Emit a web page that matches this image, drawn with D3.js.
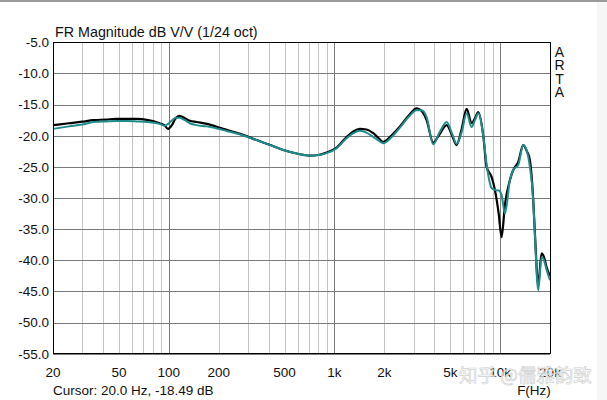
<!DOCTYPE html>
<html>
<head>
<meta charset="utf-8">
<script src="https://cdn.jsdelivr.net/npm/d3@7"></script>
<style>
  body { margin: 0; background: #fff; }
  svg { display: block; font-family: "Liberation Sans", Arial, sans-serif; }
</style>
</head>
<body>
<div id="chart-container"></div>
<script>
// measurement points (Hz), shared by both traces
var freqs = [20, 25, 30, 35, 42, 48, 56, 64, 75, 88, 94, 99, 105, 110, 116, 125, 134, 147,
  170, 213, 270, 339, 410, 491, 600, 711, 800, 898, 1031, 1183, 1300, 1425, 1560, 1714,
  1850, 1970, 2200, 2483, 2800, 3134, 3350, 3600, 3945, 4300, 4756, 5100, 5460, 5850,
  6280, 6730, 7050, 7380, 7910, 8280, 8880, 9300, 9800, 10200, 10700, 11460, 12000,
  12860, 13780, 14500, 15120, 15840, 16220, 16980, 17780, 18400, 19060, 20000];

var blackDb = [-18.3, -18.0, -17.75, -17.5, -17.4, -17.3, -17.3, -17.3, -17.5, -18.0, -18.3,
  -18.9, -18.2, -17.2, -16.8, -17.2, -17.6, -17.8, -18.1, -18.9, -19.7, -20.7, -21.5,
  -22.3, -22.9, -23.2, -23.1, -22.7, -21.9, -20.2, -19.3, -18.9, -19.0, -19.6, -20.4,
  -21.0, -20.0, -18.5, -16.8, -15.6, -16.0, -17.5, -21.1, -19.8, -18.3, -19.8, -21.5,
  -19.0, -15.7, -18.0, -17.2, -16.2, -20.0, -25.0, -26.6, -28.7, -32.5, -36.3, -31.0,
  -27.1, -25.5, -24.2, -21.5, -22.5, -23.9, -30.3, -35.7, -44.0, -38.9, -39.5, -41.1, -42.5];

var tealDb = [-18.9, -18.5, -18.2, -17.8, -17.7, -17.65, -17.65, -17.7, -17.8, -18.1, -18.4,
  -18.1, -17.5, -17.1, -17.1, -17.5, -18.0, -18.3, -18.5, -19.1, -19.8, -20.7, -21.5,
  -22.3, -22.9, -23.2, -23.1, -22.8, -22.0, -20.4, -19.6, -19.2, -19.5, -20.2, -20.8,
  -21.2, -20.3, -18.7, -17.0, -15.9, -15.9, -17.0, -21.4, -19.5, -17.8, -19.5, -21.3,
  -19.5, -16.4, -18.6, -17.5, -16.4, -20.0, -24.5, -28.4, -28.7, -28.8, -29.5, -32.5,
  -27.1, -25.5, -24.7, -21.5, -22.5, -25.0, -30.3, -36.0, -44.8, -39.5, -40.0, -41.5, -43.2];

var yTicks = [-5, -10, -15, -20, -25, -30, -35, -40, -45, -50, -55];
var xTicks = [20, 50, 100, 200, 500, 1000, 2000, 5000, 10000, 20000];
var xTickLabels = ['20', '50', '100', '200', '500', '1k', '2k', '5k', '10k', '20k'];
var gridFreqs = [20, 30, 40, 50, 60, 70, 80, 90, 100, 200, 300, 400, 500, 600, 700, 800, 900,
  1000, 2000, 3000, 4000, 5000, 6000, 7000, 8000, 9000, 10000, 20000];
var majorFreqs = [100, 1000, 10000];

var titleText = 'FR Magnitude dB V/V (1/24 oct)';
var cursorText = 'Cursor: 20.0 Hz, -18.49 dB';
var axisName = 'F(Hz)';
var brandLetters = ['A', 'R', 'T', 'A'];
var watermark = '知乎 @儒雅韵致';

var _width = 607, _height = 400,
    _left = 53, _right = 550, _top = 42.3, _bottom = 353.7;

var svg = d3.select('#chart-container').append('svg')
    .attr('width', _width)
    .attr('height', _height);

// window frame bits
svg.append('rect')
    .attr('x', 597).attr('y', 0).attr('width', 10).attr('height', _height)
    .attr('fill', '#f6f6f6');
svg.append('line')
    .attr('x1', 0).attr('x2', _width).attr('y1', 1).attr('y2', 1)
    .attr('stroke', '#9a9a9a').attr('stroke-width', 2);

var x = d3.scaleLog().domain([20, 20000]).range([_left, _right]);
var y = d3.scaleLinear().domain([-55, -5]).range([_bottom, _top]);

var grid = svg.append('g').attr('class', 'grid');

grid.selectAll('line.v')
    .data(gridFreqs)
    .enter().append('line')
    .attr('class', 'v')
    .attr('x1', function(d) { return Math.round(x(d)) + 0.5; })
    .attr('x2', function(d) { return Math.round(x(d)) + 0.5; })
    .attr('y1', _top).attr('y2', _bottom)
    .attr('stroke', function(d) { return majorFreqs.indexOf(d) >= 0 ? '#7a7a7a' : '#c4c4c4'; })
    .attr('stroke-width', 1);

grid.selectAll('line.h')
    .data(yTicks)
    .enter().append('line')
    .attr('class', 'h')
    .attr('x1', _left).attr('x2', _right)
    .attr('y1', function(d) { return Math.round(y(d)) + 0.5; })
    .attr('y2', function(d) { return Math.round(y(d)) + 0.5; })
    .attr('stroke', '#7a7a7a')
    .attr('stroke-width', 1);

// traces
var line = d3.line()
    .x(function(d) { return x(d[0]); })
    .y(function(d) { return y(d[1]); })
    .curve(d3.curveMonotoneX);

svg.append('path')
    .datum(d3.zip(freqs, blackDb))
    .attr('d', line)
    .attr('fill', 'none')
    .attr('stroke', '#000')
    .attr('stroke-width', 2.2);

svg.append('path')
    .datum(d3.zip(freqs, tealDb))
    .attr('d', line)
    .attr('fill', 'none')
    .attr('stroke', '#1f8c8c')
    .attr('stroke-width', 2);

// plot frame
svg.append('rect')
    .attr('x', Math.round(_left) + 0.5).attr('y', Math.round(_top) + 0.5)
    .attr('width', Math.round(_right - _left)).attr('height', Math.round(_bottom - _top))
    .attr('fill', 'none')
    .attr('stroke', '#000');

// y labels
svg.append('g').selectAll('text')
    .data(yTicks)
    .enter().append('text')
    .attr('x', 49)
    .attr('y', function(d) { return y(d); })
    .attr('dy', '0.36em')
    .attr('text-anchor', 'end')
    .attr('font-size', 13.5)
    .attr('fill', '#111')
    .text(function(d) { return d.toFixed(1); });

// x labels
svg.append('g').selectAll('text')
    .data(xTicks)
    .enter().append('text')
    .attr('x', function(d) { return x(d); })
    .attr('y', 377)
    .attr('text-anchor', 'middle')
    .attr('font-size', 13.5)
    .attr('fill', '#111')
    .text(function(d, i) { return xTickLabels[i]; });

svg.append('text')
    .attr('x', 55).attr('y', 36.5)
    .attr('font-size', 14.3)
    .attr('fill', '#111')
    .text(titleText);

svg.append('text')
    .attr('x', 53).attr('y', 395)
    .attr('font-size', 13.5)
    .attr('fill', '#111')
    .text(cursorText);

svg.append('text')
    .attr('x', 534).attr('y', 395)
    .attr('text-anchor', 'middle')
    .attr('font-size', 13.5)
    .attr('fill', '#111')
    .text(axisName);

svg.append('g').selectAll('text')
    .data(brandLetters)
    .enter().append('text')
    .attr('x', 559.5)
    .attr('y', function(d, i) { return 57 + i * 13.3; })
    .attr('text-anchor', 'middle')
    .attr('font-size', 14)
    .attr('fill', '#111')
    .text(function(d) { return d; });

// faint watermark, drawn over the labels like in the screenshot
svg.append('text')
    .attr('x', 459).attr('y', 382)
    .attr('font-family', '"Noto Sans CJK SC", sans-serif')
    .attr('font-size', 18.5)
    .attr('fill', '#fff')
    .attr('fill-opacity', 0.6)
    .attr('stroke', '#d2d2d2')
    .attr('stroke-width', 0.7)
    .text(watermark);
</script>
</body>
</html>
